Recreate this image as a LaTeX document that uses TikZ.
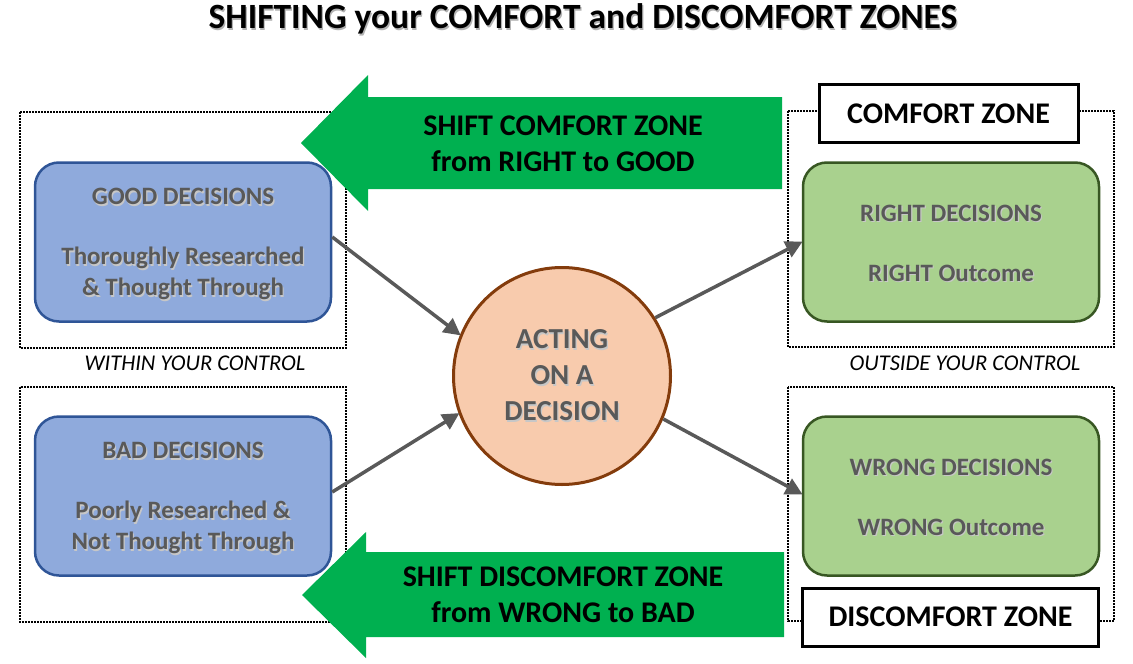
\documentclass[tikz,border=0pt]{standalone}
\usepackage{fontspec}
\setmainfont{Carlito}
\usetikzlibrary{arrows.meta}
\definecolor{txtgrey}{HTML}{595959}
\definecolor{bluefill}{HTML}{8FAADC}
\definecolor{blueedge}{HTML}{2F5597}
\definecolor{greenfill}{HTML}{A9D18E}
\definecolor{greenedge}{HTML}{385723}
\definecolor{peach}{HTML}{F8CBAD}
\definecolor{brownedge}{HTML}{843C0C}
\definecolor{biggreen}{HTML}{00B050}
\definecolor{arrowgrey}{HTML}{595959}
\newcommand\shd[1]{\makebox[0pt][l]{\hspace{1.2pt}\raisebox{-1.2pt}{\textcolor{black!22}{#1}}}#1}
\newcommand\tshd[1]{\makebox[0pt][l]{\hspace{1.2pt}\raisebox{-2pt}{\textcolor{black!30}{#1}}}#1}
\tikzset{
  zone/.style={draw=black, line width=2pt, dash pattern=on 1.7pt off 1.3pt},
  decbox/.style={rounded corners=24pt, line width=2.5pt, minimum width=296pt, minimum height=159pt, inner sep=0pt},
  goodbox/.style={decbox, fill=bluefill, draw=blueedge},
  okbox/.style={decbox, fill=greenfill, draw=greenedge},
  dectext/.style={align=center, text=txtgrey, font=\bfseries\fontsize{25}{31}\selectfont},
  zonelabel/.style={draw=black, fill=white, line width=3pt, minimum height=58pt, inner sep=0pt, font=\bfseries\fontsize{30}{34}\selectfont},
  ctrl/.style={font=\itshape\fontsize{22.5}{26}\selectfont},
  bigarrow/.style={fill=biggreen, draw=none},
  shiftlabel/.style={align=center, font=\bfseries\fontsize{30}{36}\selectfont},
  conn/.style={draw=arrowgrey, line width=3.5pt, -{Triangle[length=17pt,width=17pt]}, shorten >=-1pt},
}
\begin{document}
\begin{tikzpicture}[x=1pt,y=-1pt]
\useasboundingbox (0,0) rectangle (1133,664);
% title
\node[font=\bfseries\fontsize{35.5}{40}\selectfont] (title) at (583,20) {\tshd{SHIFTING your COMFORT and DISCOMFORT ZONES}};
% dotted zones
\draw[zone] (20,112) rectangle (346,348);
\draw[zone] (20,387) rectangle (346,622);
\draw[zone] (788,111) rectangle (1114,347);
\draw[zone] (788,387) rectangle (1114,621);
% decision boxes
\node[goodbox] (good) at (183,242) {};
\node[goodbox] (bad) at (183,496) {};
\node[okbox] (right) at (951,242) {};
\node[okbox] (wrong) at (951,496) {};
\node[dectext] (goodtxt) at (183,245) {\shd{GOOD DECISIONS}\\[29pt]\shd{Thoroughly Researched}\\\shd{\& Thought Through}};
\node[dectext] (badtxt) at (183,499) {\shd{BAD DECISIONS}\\[29pt]\shd{Poorly Researched \&}\\\shd{Not Thought Through}};
\node[dectext] (righttxt) at (951,243.5) {\shd{RIGHT DECISIONS}\\[29pt]\shd{RIGHT Outcome}};
\node[dectext] (wrongtxt) at (951,497.5) {\shd{WRONG DECISIONS}\\[29pt]\shd{WRONG Outcome}};
% control labels
\node[ctrl] (within) at (195,363) {WITHIN YOUR CONTROL};
\node[ctrl] (outside) at (965,363) {OUTSIDE YOUR CONTROL};
% centre circle
\node[circle, fill=peach, draw=brownedge, line width=3pt, minimum size=217pt, inner sep=0pt, align=center, text=txtgrey, font=\bfseries\fontsize{29}{36}\selectfont] (act) at (562,376) {\shd{ACTING}\\\shd{ON A}\\\shd{DECISION}};
% connectors
\draw[conn] ([yshift=5pt]good.east) -- (act.158);
\draw[conn] ([yshift=4pt]bad.east) -- (act.200);
\draw[conn] (act.32) -- (right.west);
\draw[conn] (act.337) -- ([yshift=2pt]wrong.west);
% big green arrows
\draw[bigarrow] (782,97) -- (368,97) -- (368,75) -- (301,143) -- (368,211) -- (368,189) -- (782,189) -- cycle;
\draw[bigarrow] (784,552) -- (366,552) -- (366,532) -- (302,595) -- (366,658) -- (366,637) -- (784,637) -- cycle;
\node[shiftlabel] (shiftc) at (563,144) {SHIFT COMFORT ZONE\\from RIGHT to GOOD};
\node[shiftlabel] (shiftd) at (563,595) {SHIFT DISCOMFORT ZONE\\from WRONG to BAD};
% zone labels
\node[zonelabel, minimum width=259pt] (cz) at (948.5,113.5) {COMFORT ZONE};
\node[zonelabel, minimum width=296pt] (dz) at (950.5,617) {DISCOMFORT ZONE};
\end{tikzpicture}
\end{document}
